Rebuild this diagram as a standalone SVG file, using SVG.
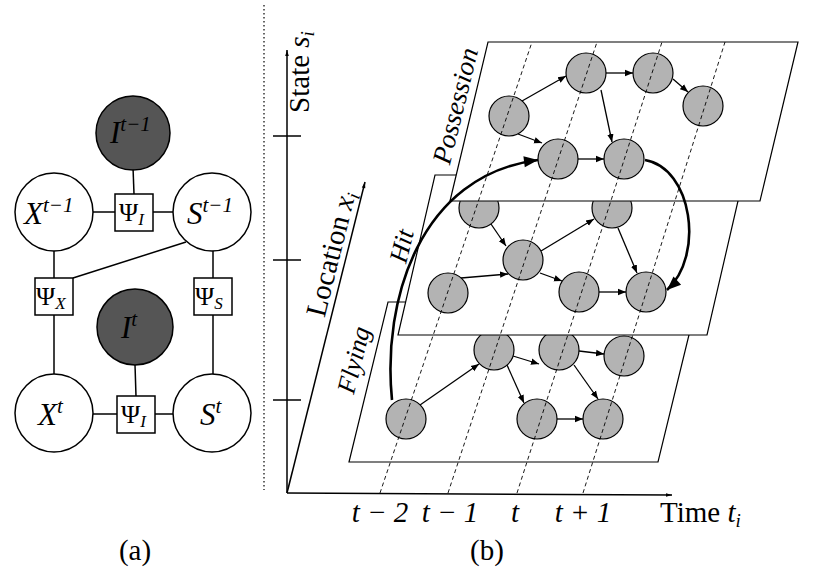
<svg xmlns="http://www.w3.org/2000/svg" width="825" height="570" viewBox="0 0 825 570" font-family="'Liberation Serif', 'Times New Roman', serif">
<style>
text{font-family:"Liberation Serif","Times New Roman",serif;fill:#000}
.it{font-style:italic}
.w{fill:#fff;stroke:#000;stroke-width:1.5}
.d{fill:#555;stroke:#000;stroke-width:1.5}
.l{stroke:#000;stroke-width:1.5;fill:none}
.pl{fill:#fff;stroke:#000;stroke-width:1.2}
.n{fill:#b3b3b3;stroke:#000;stroke-width:1.2}
.e{stroke:#000;stroke-width:1.3;fill:none;marker-end:url(#a)}
.ds{stroke:#000;stroke-width:0.9;stroke-dasharray:4 3;fill:none}
.big{stroke:#000;stroke-width:2.6;fill:none;marker-end:url(#b)}
</style>
<defs>
<marker id="a" viewBox="0 0 10 10" refX="10" refY="5" markerWidth="8" markerHeight="8" markerUnits="userSpaceOnUse" orient="auto"><path d="M0,1 L10,5 L0,9 z" fill="#000"/></marker>
<marker id="b" viewBox="0 0 10 10" refX="10" refY="5" markerWidth="16" markerHeight="14" markerUnits="userSpaceOnUse" orient="auto"><path d="M0,1 L10,5 L0,9 z" fill="#000"/></marker>
<marker id="ax" viewBox="0 0 10 10" refX="10" refY="5" markerWidth="8" markerHeight="6" markerUnits="userSpaceOnUse" orient="auto"><path d="M0,2 L10,5 L0,8 z" fill="#000"/></marker>
</defs>
<g id="edges-a">
<line class="l" x1="133" y1="167" x2="134" y2="194"/>
<line class="l" x1="93" y1="212" x2="115" y2="212"/>
<line class="l" x1="153" y1="212" x2="173" y2="212"/>
<line class="l" x1="54" y1="251" x2="54" y2="278"/>
<line class="l" x1="186" y1="242" x2="73" y2="278"/>
<line class="l" x1="213" y1="251" x2="213" y2="278"/>
<line class="l" x1="54" y1="315" x2="54" y2="374"/>
<line class="l" x1="213" y1="315" x2="213" y2="374"/>
<line class="l" x1="135" y1="365" x2="136" y2="396"/>
<line class="l" x1="93" y1="414" x2="117" y2="414"/>
<line class="l" x1="155" y1="414" x2="173" y2="414"/>
</g>
<g id="It1"><circle class="d" cx="133" cy="133" r="37"/><text class="it" x="110" y="143" font-size="31">I<tspan font-size="21" dy="-12">t−1</tspan></text></g>
<g id="Xt1"><circle class="w" cx="54" cy="212" r="39"/><text class="it" x="24" y="224" font-size="31">X<tspan font-size="21" dy="-12">t−1</tspan></text></g>
<g id="PsiI1"><rect class="w" x="115" y="194" width="38" height="37"/><text x="119" y="221" font-size="26">Ψ<tspan class="it" font-size="17" dy="4">I</tspan></text></g>
<g id="St1"><circle class="w" cx="212" cy="212" r="39"/><text class="it" x="187" y="224" font-size="31">S<tspan font-size="21" dy="-12">t−1</tspan></text></g>
<g id="PsiX"><rect class="w" x="35" y="278" width="38" height="37"/><text x="36" y="305" font-size="26">Ψ<tspan class="it" font-size="17" dy="4">X</tspan></text></g>
<g id="PsiS"><rect class="w" x="194" y="278" width="38" height="37"/><text x="195" y="305" font-size="26">Ψ<tspan class="it" font-size="17" dy="4">S</tspan></text></g>
<g id="It"><circle class="d" cx="135" cy="327" r="38"/><text class="it" x="121" y="338" font-size="31">I<tspan font-size="21" dy="-12">t</tspan></text></g>
<g id="Xt"><circle class="w" cx="54" cy="413" r="39"/><text class="it" x="38" y="425" font-size="31">X<tspan font-size="21" dy="-12">t</tspan></text></g>
<g id="PsiI2"><rect class="w" x="117" y="396" width="38" height="37"/><text x="121" y="423" font-size="26">Ψ<tspan class="it" font-size="17" dy="4">I</tspan></text></g>
<g id="St"><circle class="w" cx="212" cy="413" r="39"/><text class="it" x="200" y="425" font-size="31">S<tspan font-size="21" dy="-12">t</tspan></text></g>
<text x="135" y="560" font-size="29" text-anchor="middle">(a)</text>
<line x1="264" y1="5" x2="264" y2="490" stroke="#000" stroke-width="1.2" stroke-dasharray="1.5 2.5"/>
<g id="axes">
<line class="l" x1="287" y1="493" x2="287" y2="50" stroke-width="1" marker-end="url(#ax)"/>
<line class="l" x1="287" y1="493" x2="672" y2="495" stroke-width="1" marker-end="url(#ax)"/>
<line class="l" x1="287" y1="493" x2="365" y2="182" stroke-width="1" marker-end="url(#ax)"/>
<line class="l" x1="273" y1="136" x2="301" y2="136" stroke-width="2.2"/>
<line class="l" x1="273" y1="260" x2="301" y2="260" stroke-width="2.2"/>
<line class="l" x1="273" y1="400" x2="301" y2="400" stroke-width="2.2"/>
<text x="309" y="72" font-size="29" text-anchor="middle" transform="rotate(-90 309 72)">State <tspan class="it">s</tspan><tspan class="it" font-size="19" dy="5">i</tspan></text>
<text x="340" y="256" font-size="29" text-anchor="middle" transform="rotate(-76 340 256)">Location <tspan class="it">x</tspan><tspan class="it" font-size="19" dy="5">i</tspan></text>
<g font-size="29" class="it" text-anchor="middle">
<text x="380" y="522">t − 2</text><text x="450" y="522">t − 1</text><text x="515" y="522">t</text><text x="583" y="522">t + 1</text>
</g>
<text x="660" y="522" font-size="29">Time <tspan class="it">t</tspan><tspan class="it" font-size="19" dy="5">i</tspan></text>
<text x="487" y="560" font-size="29" text-anchor="middle">(b)</text>
</g>
<g id="flying">
<polygon class="pl" points="388,302 697,302 658,462 349,462"/>
<text class="it" x="362" y="362" font-size="26" text-anchor="middle" transform="rotate(-76 362 362)">Flying</text>
<g id="f-edges">
<line class="e" x1="420" y1="405" x2="479" y2="364"/>
<line class="e" x1="513" y1="356" x2="539" y2="364"/>
<line class="e" x1="507" y1="365" x2="524" y2="403"/>
<line class="e" x1="579" y1="351" x2="604" y2="354"/>
<line class="e" x1="574" y1="365" x2="598" y2="399"/>
<line class="e" x1="557" y1="419" x2="583" y2="419"/>
</g>
<circle class="n" cx="406" cy="419" r="20"/><circle class="n" cx="494" cy="350" r="20"/><circle class="n" cx="559" cy="350" r="20"/>
<circle class="n" cx="624" cy="356" r="20"/><circle class="n" cx="537" cy="419" r="20"/><circle class="n" cx="603" cy="419" r="20"/>
</g>
<g id="hit">
<polygon class="pl" points="435,175 744,175 707,335 398,335"/>
<text class="it" x="410" y="248" font-size="26" text-anchor="middle" transform="rotate(-76 410 248)">Hit</text>
<g id="h-edges">
<line class="e" x1="491" y1="224" x2="506" y2="246"/>
<line class="e" x1="461" y1="278" x2="508" y2="274"/>
<line class="e" x1="541" y1="251" x2="594" y2="219"/>
<line class="e" x1="540" y1="273" x2="562" y2="281"/>
<line class="e" x1="618" y1="228" x2="637" y2="273"/>
<line class="e" x1="599" y1="292" x2="626" y2="292"/>
</g>
<circle class="n" cx="479" cy="208" r="20"/><circle class="n" cx="612" cy="208" r="20"/><circle class="n" cx="523" cy="260" r="20"/>
<circle class="n" cx="448" cy="293" r="20"/><circle class="n" cx="579" cy="292" r="20"/><circle class="n" cx="646" cy="292" r="20"/>
</g>
<g id="possession">
<polygon class="pl" points="488,42 798,42 760,201 450,201"/>
<text class="it" x="464" y="108" font-size="27" text-anchor="middle" transform="rotate(-76 464 108)">Possession</text>
<g id="p-edges">
<line class="e" x1="522" y1="101" x2="566" y2="76"/>
<line class="e" x1="518" y1="134" x2="542" y2="143"/>
<line class="e" x1="606" y1="73" x2="633" y2="73"/>
<line class="e" x1="673" y1="79" x2="688" y2="92"/>
<line class="e" x1="601" y1="90" x2="612" y2="142"/>
<line class="e" x1="578" y1="159" x2="604" y2="159"/>
</g>
<circle class="n" cx="509" cy="116" r="20"/><circle class="n" cx="586" cy="73" r="20"/><circle class="n" cx="653" cy="73" r="20"/>
<circle class="n" cx="703" cy="106" r="20"/><circle class="n" cx="558" cy="159" r="20"/><circle class="n" cx="624" cy="159" r="20"/>
</g>
<g id="time-lines">
<line class="ds" x1="380" y1="493" x2="532" y2="42"/>
<line class="ds" x1="448" y1="493" x2="597" y2="42"/>
<line class="ds" x1="517" y1="493" x2="662" y2="42"/>
<line class="ds" x1="583" y1="493" x2="725" y2="42"/>
</g>
<g id="transitions">
<path class="big" d="M392,400 C382,300 420,175 538,160"/>
<path class="big" d="M645,160 C692,168 705,255 667,290"/>
</g>
</svg>
